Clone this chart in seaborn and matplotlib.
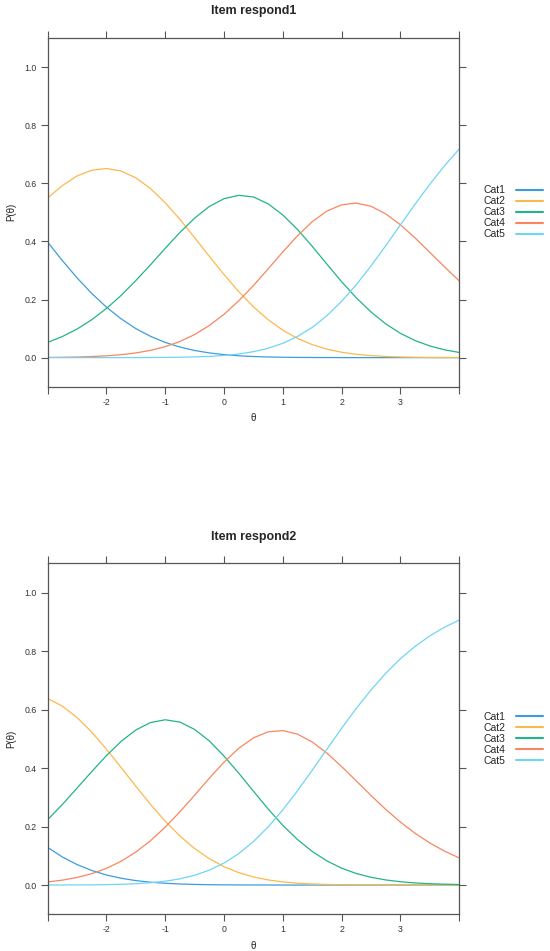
import numpy as np
import pandas as pd
import seaborn as sns
import matplotlib
matplotlib.use("Agg")
import matplotlib.pyplot as plt
from matplotlib.lines import Line2D

sns.set_style("ticks")
plt.rcParams['font.family'] = ['Liberation Sans', 'DejaVu Sans']

# ---- data ----
theta = [-3.0, -2.75, -2.5, -2.25, -2.0, -1.75, -1.5, -1.25, -1.0, -0.75, -0.5, -0.25,
         0.0, 0.25, 0.5, 0.75, 1.0, 1.25, 1.5, 1.75, 2.0, 2.25, 2.5, 2.75, 3.0, 3.25,
         3.5, 3.75, 4.0]
categories = ["Cat1", "Cat2", "Cat3", "Cat4", "Cat5"]

item1_cat1 = [0.398, 0.3346, 0.275, 0.2212, 0.174, 0.1336, 0.100, 0.0734, 0.0524, 0.0364,
              0.0246, 0.0162, 0.0103, 0.0064, 0.0038, 0.0022, 0.0013, 0.0007, 0.0004, 0.0002,
              0.0001, 0.0, 0.0, 0.0, 0.0, 0.0, 0.0, 0.0, 0.0]
item1_cat2 = [0.549, 0.5917, 0.625, 0.6449, 0.651, 0.6423, 0.619, 0.5819, 0.533, 0.4761,
              0.413, 0.3488, 0.286, 0.2271, 0.175, 0.1306, 0.0943, 0.0660, 0.0446, 0.0292,
              0.0185, 0.0113, 0.0067, 0.0039, 0.0022, 0.0012, 0.0006, 0.0003, 0.0002]
item1_cat3 = [0.052, 0.0724, 0.098, 0.1302, 0.169, 0.2138, 0.265, 0.3194, 0.376, 0.4307,
              0.480, 0.5203, 0.547, 0.5586, 0.553, 0.5295, 0.491, 0.4410, 0.383, 0.3217,
              0.261, 0.2057, 0.157, 0.1161, 0.0835, 0.0586, 0.0401, 0.0269, 0.0177]
item1_cat4 = [0.0007, 0.0013, 0.0022, 0.0037, 0.0062, 0.0101, 0.0161, 0.0249, 0.0377, 0.0555,
              0.0794, 0.1104, 0.149, 0.1955, 0.248, 0.3055, 0.364, 0.4195, 0.468, 0.5045,
              0.526, 0.5318, 0.521, 0.4948, 0.457, 0.4117, 0.362, 0.3121, 0.264]
item1_cat5 = [0.0, 0.0, 0.0, 0.0, 0.0, 0.0001, 0.0002, 0.0004, 0.0007, 0.0013,
              0.0024, 0.0043, 0.0074, 0.0125, 0.0204, 0.0322, 0.0492, 0.0729, 0.104, 0.1445,
              0.194, 0.2512, 0.316, 0.3853, 0.457, 0.5286, 0.597, 0.6607, 0.718]

item2_cat1 = [0.129, 0.0962, 0.0702, 0.0499, 0.0345, 0.0233, 0.0152, 0.0097, 0.0060, 0.0036,
              0.0021, 0.0012, 0.0006, 0.0003, 0.0002, 0.0001, 0.0, 0.0, 0.0, 0.0,
              0.0, 0.0, 0.0, 0.0, 0.0, 0.0, 0.0, 0.0, 0.0]
item2_cat2 = [0.638, 0.6119, 0.573, 0.5231, 0.465, 0.4020, 0.338, 0.2758, 0.2185, 0.1678,
              0.1249, 0.0900, 0.0628, 0.0424, 0.0277, 0.0175, 0.0107, 0.0063, 0.0036, 0.0020,
              0.0011, 0.0006, 0.0003, 0.0002, 0.0001, 0.0, 0.0, 0.0, 0.0]
item2_cat3 = [0.223, 0.2750, 0.331, 0.3875, 0.442, 0.4910, 0.530, 0.5554, 0.565, 0.5571,
              0.532, 0.4928, 0.441, 0.3826, 0.321, 0.2601, 0.204, 0.1554, 0.1147, 0.0824,
              0.0576, 0.0394, 0.0264, 0.0174, 0.0113, 0.0072, 0.0046, 0.0029, 0.0018]
item2_cat4 = [0.0106, 0.0167, 0.0258, 0.0388, 0.0569, 0.0812, 0.1125, 0.1514, 0.1977, 0.2503,
              0.307, 0.3651, 0.420, 0.4673, 0.503, 0.5238, 0.528, 0.5159, 0.489, 0.4509,
              0.405, 0.3557, 0.306, 0.2585, 0.215, 0.1767, 0.1436, 0.1158, 0.0926]
item2_cat5 = [0.0001, 0.0002, 0.0004, 0.0007, 0.0014, 0.0025, 0.0045, 0.0078, 0.0130, 0.0212,
              0.0334, 0.0509, 0.0752, 0.1074, 0.1485, 0.1986, 0.257, 0.3224, 0.3925, 0.4647,
              0.536, 0.6043, 0.667, 0.7240, 0.774, 0.8161, 0.852, 0.8814, 0.906]

titles = ["Item respond1", "Item respond2"]
x_ticks = [-3, -2, -1, 0, 1, 2, 3, 4]
x_tick_labels = ["", "-2", "-1", "0", "1", "2", "3", ""]
y_ticks = [0.0, 0.2, 0.4, 0.6, 0.8, 1.0]
y_tick_labels = ["0.0", "0.2", "0.4", "0.6", "0.8", "1.0"]

colors = ["#3d9ddc", "#fdb84c", "#22b585", "#f9865f", "#70d4f5"]


def long_frame(cols):
    df = pd.DataFrame({"theta": theta})
    for c, v in zip(categories, cols):
        df[c] = v
    return df.melt(id_vars="theta", var_name="cat", value_name="P")


items = [
    long_frame([item1_cat1, item1_cat2, item1_cat3, item1_cat4, item1_cat5]),
    long_frame([item2_cat1, item2_cat2, item2_cat3, item2_cat4, item2_cat5]),
]

fig = plt.figure(figsize=(5.5, 9.51), dpi=100)
axes = [
    fig.add_axes([0.0864, 0.5934, 0.7487, 0.3666]),
    fig.add_axes([0.0864, 0.0386, 0.7487, 0.3691]),
]

spine_col = "#555555"
for ax, df, title in zip(axes, items, titles):
    sns.lineplot(data=df, x="theta", y="P", hue="cat", palette=colors,
                 hue_order=categories, ax=ax, linewidth=0.9, legend=False)
    ax.set_xlim(-3, 4)
    ax.set_ylim(-0.1, 1.1)
    ax.set_xticks(x_ticks)
    ax.set_xticklabels(x_tick_labels)
    ax.set_yticks(y_ticks)
    ax.set_yticklabels(y_tick_labels)
    ax.tick_params(top=True, right=True, labeltop=False, labelright=False,
                   direction="out", length=5, width=0.8, colors=spine_col,
                   labelcolor="#333333", labelsize=6.3, pad=3)
    for s in ax.spines.values():
        s.set_visible(True)
        s.set_color(spine_col)
        s.set_linewidth(0.9)
    ax.set_xlabel("θ", fontsize=7, labelpad=4.5, color="#222222")
    ax.set_ylabel("P(θ)", fontsize=7, labelpad=6, color="#222222")
    ax.set_title(title, fontsize=9, fontweight="bold", pad=17)
    handles = [Line2D([0], [0], color=c, lw=1.5) for c in colors]
    ax.legend(handles, categories, loc="center left", bbox_to_anchor=(1.058, 0.5),
              frameon=False, markerfirst=False, fontsize=7.5, handlelength=2.6,
              handletextpad=1.0, labelspacing=0.1, borderaxespad=0, borderpad=0)

fig.savefig("out.png", dpi=100)
